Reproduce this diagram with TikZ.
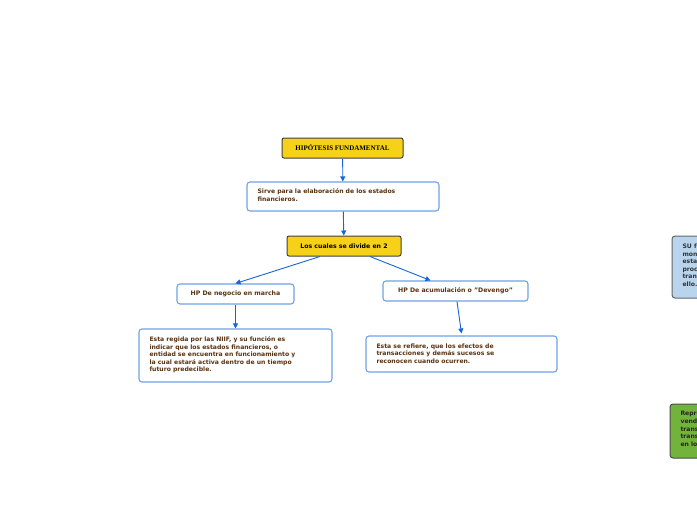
\documentclass[tikz,border=0pt]{standalone}
\usepackage{fontspec}
\setmainfont{DejaVu Sans}
\usetikzlibrary{arrows.meta}
\definecolor{txtbrown}{HTML}{5A3310}
\definecolor{mainyellow}{HTML}{F7D117}
\definecolor{linkblue}{HTML}{1565D8}
\definecolor{boxblue}{HTML}{6FA0E8}
\definecolor{sideblue}{HTML}{B9D5EE}
\definecolor{sidegreen}{HTML}{72B33C}
\tikzset{
  mainbox/.style={draw=black!75, fill=mainyellow, rounded corners=2pt, line width=1pt, inner sep=0pt},
  subbox/.style={draw=boxblue, fill=white, rounded corners=3pt, line width=1.1pt, inner sep=0pt},
  lbl/.style={text=txtbrown, font=\fontsize{6.1}{7.6}\selectfont\bfseries, align=left},
  link/.style={draw=linkblue, line width=0.9pt, -{Triangle[length=5pt,width=5pt]}}
}
\begin{document}
\begin{tikzpicture}[x=1pt,y=-1pt]
\useasboundingbox (0,0) rectangle (697,520);
% main column
\node[mainbox, minimum width=121pt, minimum height=20pt] (hf) at (342.5,148)
  {\fontspec{Liberation Serif}\fontsize{7}{8}\selectfont\bfseries HIPÓTESIS FUNDAMENTAL};
\node[subbox, minimum width=192pt, minimum height=29pt] (sirve) at (343,196.5) {};
\node[lbl, anchor=north west] at (254,185) {Sirve para la elaboración de los estados\\financieros.};
\node[mainbox, minimum width=114pt, minimum height=20pt] (cuales) at (344,246)
  {\fontsize{6.2}{7}\selectfont\bfseries Los cuales se divide en 2};
% branches
\node[subbox, minimum width=117pt, minimum height=20pt] (negocio) at (235.5,294)
  {\color{txtbrown}\fontsize{6.2}{7}\selectfont\bfseries HP De negocio en marcha};
\node[subbox, minimum width=145pt, minimum height=20pt] (devengo) at (455.5,291)
  {\color{txtbrown}\fontsize{6.2}{7}\selectfont\bfseries HP De acumulación o "Devengo"};
\node[subbox, minimum width=193pt, minimum height=53pt] (regida) at (235.5,355.5) {};
\node[lbl, anchor=north west] at (146,333) {Esta regida por las NIIF, y su función es\\indicar que los estados financieros, o\\entidad se encuentra en funcionamiento y\\la cual estará activa dentro de un tiempo\\futuro predecible.};
\node[subbox, minimum width=191pt, minimum height=36pt] (refiere) at (461.5,354) {};
\node[lbl, anchor=north west] at (373,340) {Esta se refiere, que los efectos de\\transacciones y demás sucesos se\\reconocen cuando ocurren.};
% side boxes cut by the edge
\begin{scope}
\clip (0,0) rectangle (697,520);
\draw[draw=gray!80!black, fill=sideblue, rounded corners=3pt, line width=1pt] (672,236) rectangle (740,298);
\node[lbl, text=black!80, anchor=north west] at (679,240) {SU función\\monetaria\\estados\\procesos\\transacciones\\ello.};
\draw[draw=black!70, fill=sidegreen, rounded corners=3pt, line width=1pt] (670,404) rectangle (740,458);
\node[lbl, text=black!85, anchor=north west] at (677,408) {Representa\\venden\\transacciones\\transacciones\\en los};
\end{scope}
% links
\draw[link] (hf) -- (sirve);
\draw[link] (sirve) -- (cuales);
\draw[link] (cuales.south) ++(-24,0) -- (negocio.north);
\draw[link] (cuales.south) ++(26,0) -- ([xshift=-25pt]devengo.north);
\draw[link] (negocio) -- (regida);
\draw[link] (devengo) -- ([yshift=2pt]refiere.north);
\end{tikzpicture}
\end{document}
